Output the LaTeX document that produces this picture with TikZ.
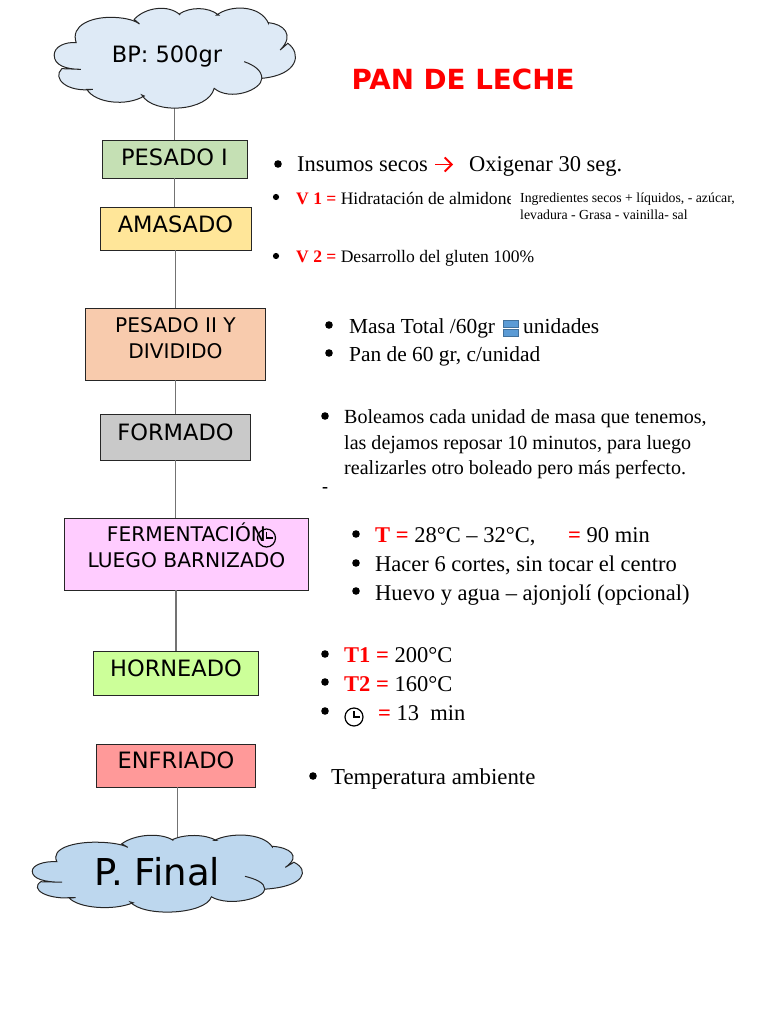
\documentclass[tikz,border=0pt]{standalone}
\usepackage{fontspec}
\setsansfont{DejaVu Sans}
\setmainfont{Liberation Serif}
\usetikzlibrary{positioning,arrows.meta}

\definecolor{verde}{HTML}{C5E0B4}
\definecolor{amarillo}{HTML}{FFE699}
\definecolor{naranja}{HTML}{F8CBAD}
\definecolor{gris}{HTML}{C9C9C9}
\definecolor{rosa}{HTML}{FFCCFF}
\definecolor{lima}{HTML}{CCFF99}
\definecolor{salmon}{HTML}{FF9999}
\definecolor{nubeA}{HTML}{DEEAF6}
\definecolor{nubeB}{HTML}{BDD7EE}
\definecolor{azul}{HTML}{5B9BD5}
\definecolor{azulb}{HTML}{41719C}

\newcommand{\rojo}[1]{\textcolor{red}{\textbf{#1}}}

\begin{document}
\begin{tikzpicture}[x=1pt, y=-1pt,
    caja/.style={rectangle,draw=black!85,line width=.8pt,align=center,outer sep=0pt,
                 font=\sffamily\fontsize{22.5}{26}\selectfont,inner sep=0pt},
    cajados/.style={caja,font=\sffamily\fontsize{20.2}{26}\selectfont,text depth=12pt},
    linea/.style={draw=black!55,line width=1.2pt},
    nube node/.style={rectangle,inner sep=0pt},
    txt/.style={anchor=base west,inner sep=0pt,font=\fontsize{22.5}{26}\selectfont},
    txtb/.style={anchor=base west,inner sep=0pt,font=\fontsize{17.55}{21}\selectfont},
    txtc/.style={anchor=base west,inner sep=0pt,font=\fontsize{20.05}{24}\selectfont},
    txtd/.style={anchor=base west,inner sep=0pt,font=\fontsize{21.4}{26}\selectfont},
    igual/.style={rectangle,draw=azulb,fill=azul,line width=.5pt,
                  minimum width=14.5pt,minimum height=7pt,inner sep=0pt},
    pics/nube/.style={code={
      \draw[fill=#1,draw=black!85,line width=1pt,scale=.3333,shift={(-463,-174)}]
        (182,208) .. controls (135,208) and (102,195) .. (102,165)
        .. controls (102,140) and (135,125) .. (168,128)
        .. controls (150,75) and (215,52) .. (270,52)
        .. controls (305,52) and (340,58) .. (358,72) -- (342,58)
        .. controls (375,22) and (445,12) .. (480,45) -- (477,42)
        .. controls (510,20) and (565,20) .. (595,45) -- (590,45)
        .. controls (630,14) and (720,14) .. (745,70) -- (745,68)
        .. controls (790,72) and (825,105) .. (780,150) -- (803,130)
        .. controls (845,160) and (835,225) .. (725,235)
        .. controls (725,210) and (700,195) .. (672,185)
        .. controls (700,195) and (725,210) .. (725,235)
        .. controls (725,270) and (630,305) .. (582,265)
        .. controls (565,335) and (400,345) .. (365,285) -- (372,288)
        .. controls (320,320) and (225,310) .. (200,268) -- (218,268)
        .. controls (140,278) and (95,235) .. (125,206) -- cycle;
    }},
    pics/reloj/.style={code={
      \draw[line width=1.2pt,black] (0,0) circle (9pt);
      \draw[line width=1.2pt,black] (0,-6) -- (0,0) -- (6,0);
    }},
    flecha/.style={-{Straight Barb[length=7pt,width=14pt]},draw=red,line width=1.8pt}]

  \useasboundingbox (0,0) rectangle (768,1024);

  % recuadros
  \node[nube node,minimum width=241pt,minimum height=100pt] (bp) at (174.5,58) {};
  \node[caja,fill=verde,minimum width=145pt,minimum height=38pt,text depth=4pt] (pesado1) at (174.5,159) {PESADO I};
  \node[caja,fill=amarillo,minimum width=151pt,minimum height=43pt,text depth=8pt] (amasado) [below=29pt of pesado1,xshift=1pt] {AMASADO};
  \node[cajados,fill=naranja,minimum width=180pt,minimum height=72pt] (pesado2) [below=58pt of amasado] {PESADO II Y\\ DIVIDIDO};
  \node[caja,fill=gris,minimum width=150pt,minimum height=46pt,text depth=10pt] (formado) [below=34pt of pesado2] {FORMADO};
  \node[cajados,fill=rosa,minimum width=244pt,minimum height=72pt,text depth=18pt] (fermenta) [below=58pt of formado,xshift=11pt] {FERMENTACIÓN\\ LUEGO BARNIZADO};
  \node[caja,fill=lima,minimum width=165pt,minimum height=44pt,text depth=10pt] (horneado) [below=61pt of fermenta,xshift=-10.5pt] {HORNEADO};
  \node[caja,fill=salmon,minimum width=159pt,minimum height=43pt,text depth=10pt] (enfriado) [below=49pt of horneado] {ENFRIADO};
  \node[nube node,minimum width=270pt,minimum height=77pt] (final) at (167,873.5) {};

  \path[linea] (bp) edge (bp |- pesado1.north)
    (pesado1.south) edge (pesado1.south |- amasado.north)
    (amasado.south) edge (pesado2.north)
    (pesado2.south) edge (formado.north)
    (formado.south) edge (formado.south |- fermenta.north)
    (horneado.north |- fermenta.south) edge (horneado.north)
    ([xshift=1.5pt]enfriado.south) edge ([xshift=1.5pt]enfriado.south |- final)
    ;

  % nubes
  \pic at (bp) {nube=nubeA};
  \pic[xscale=1.12,yscale=.77] at (final) {nube=nubeB};
  \node[font=\sffamily\fontsize{22.5}{26}\selectfont] (bptexto) at (167,56) {BP: 500gr};
  \node[font=\sffamily\fontsize{37}{42}\selectfont] (finaltexto) at (157.5,872) {P. Final};

  \node[font=\sffamily\bfseries\fontsize{27.75}{32}\selectfont,text=red] (titulo) at (463,79.5) {PAN DE LECHE};

  % vinetas
  \foreach \x/\y/\r in {278/164/3.8,276/197/3.1,276/256/3.1,329/325/3.8,329/353/3.8,325/416/3.8,
                        356/534/3.8,356/563/3.8,356/591/3.8,325/654/3.8,325/682/3.8,325/711/3.8,313/776/3.8}
    \fill (\x,\y) circle (\r pt);

  \node[txt] (insumos) at (297,172) {Insumos secos};
  \node[txt] (oxigenar) at (469,172) {Oxigenar 30 seg.};
  \coordinate (flechaA) at (435,164.5);
  \coordinate (flechaB) at (453,164.5);
  \draw[flecha] (flechaA) -- (flechaB);

  \node[txtb] (v1) at (296,204.5) {\rojo{V 1 =} Hidratación de almidones};
  \node[anchor=north west,fill=white,inner ysep=2pt,inner xsep=9pt,align=left,
        font=\fontsize{13.8}{17}\selectfont] (ingred) at (511,190.5) {Ingredientes secos + líquidos, - azúcar,\\ levadura - Grasa - vainilla- sal};
  \node[txtb] (v2) at (296,262) {\rojo{V 2 =} Desarrollo del gluten 100\%};

  \node[txtd] (masa) at (349,333) {Masa Total /60gr};
  \node[igual] (igual1) at (510.5,323.5) {};
  \node[igual] (igual2) at (510.5,333) {};
  \node[txtd] (unidades) at (523,333) {unidades};
  \node[txtd] (pan) at (349,361) {Pan de 60 gr, c/unidad};

  \node[txtc] (bola1) at (344,423.5) {Boleamos cada unidad de masa que tenemos,};
  \node[txtc] (bola2) at (344,449.5) {las dejamos reposar 10 minutos, para luego};
  \node[txtc] (bola3) at (344,474.5) {realizarles otro boleado pero más perfecto.};
  \node[txtc,font=\bfseries\fontsize{18}{20}\selectfont] (guion) at (322,492.5) {-};

  \node[txt] (t) at (375,542) {\rojo{T =} 28°C – 32°C,};
  \node[txt] (tiempo) at (568,542) {\rojo{=} 90 min};
  \node[txt] (cortes) at (375,571) {Hacer 6 cortes, sin tocar el centro};
  \node[txt] (huevo) at (375,600) {Huevo y agua – ajonjolí (opcional)};
  \pic at (266.5,538) {reloj};

  \node[txt] (t1) at (344,662) {\rojo{T1 =} 200°C};
  \node[txt] (t2) at (344,691) {\rojo{T2 =} 160°C};
  \pic at (354,717) {reloj};
  \node[txt] (trece) at (378,720) {\rojo{=} 13\ \ min};
  \node[txt,font=\fontsize{22.8}{26}\selectfont] (ambiente) at (331,784) {Temperatura ambiente};

\end{tikzpicture}
\end{document}
